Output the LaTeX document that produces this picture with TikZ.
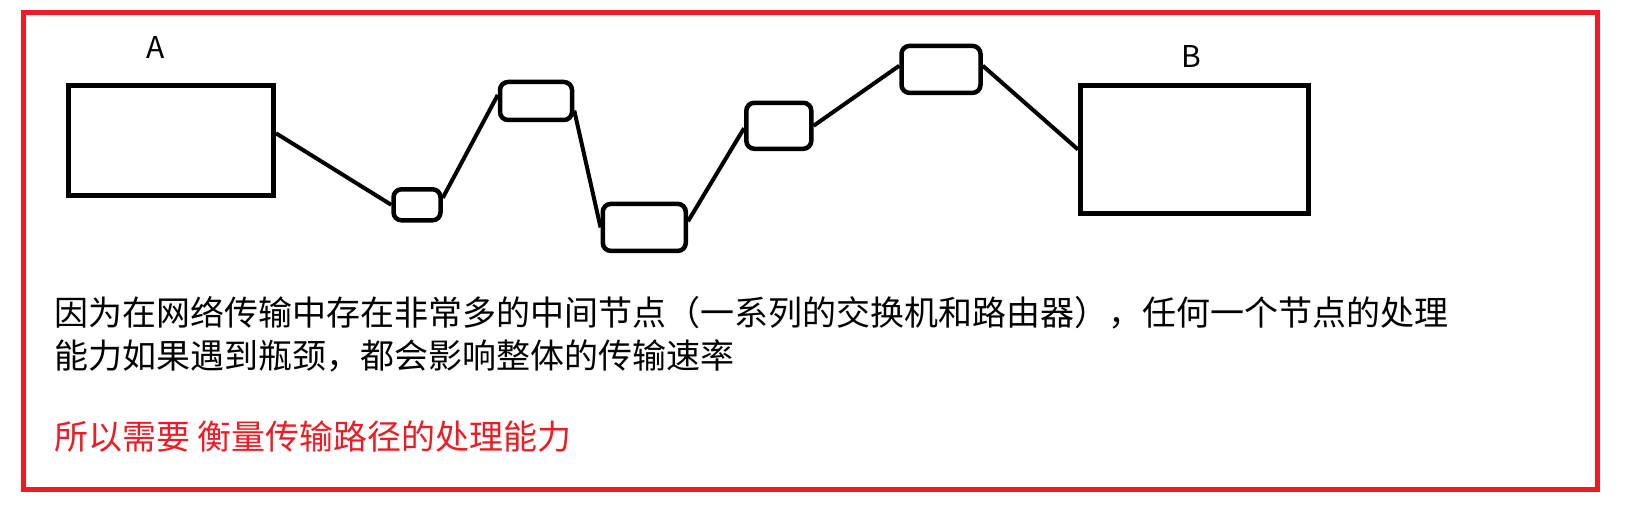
\documentclass[tikz,border=0pt]{standalone}
\usepackage{fontspec}
\setmainfont{Noto Sans CJK SC}
\definecolor{redframe}{HTML}{ED1C24}
\begin{document}
\begin{tikzpicture}[x=1pt,y=-1pt,
  bigbox/.style={draw, line width=5pt, inner sep=0pt},
  router/.style={draw, line width=4.5pt, rounded corners=8pt, inner sep=0pt},
  link/.style={line width=4pt},
  lettertag/.style={font=\fontsize{30}{34}\selectfont, inner sep=0pt},
  body/.style={font=\fontsize{34}{40}\selectfont, inner sep=0pt, anchor=base west}]
\useasboundingbox (0,0) rectangle (1651,513);
\draw[redframe, line width=5pt] (23,12.6) rectangle (1597,489.6);

\node[lettertag] (la) at (156,48) {A};
\node[lettertag] (lb) at (1191.5,57) {B};

\node[bigbox, minimum width=205pt, minimum height=110pt] (A) at (171,140.6) {};
\node[bigbox, minimum width=228pt, minimum height=128pt] (B) at (1194.5,149.5) {};

\node[router, minimum width=47pt, minimum height=31pt] (n1) at (417,204.8) {};
\node[router, minimum width=72pt, minimum height=38pt] (n2) at (536,101) {};
\node[router, minimum width=83pt, minimum height=47pt] (n3) at (644.3,227.4) {};
\node[router, minimum width=65pt, minimum height=46pt] (n4) at (778.8,125.8) {};
\node[router, minimum width=79pt, minimum height=47pt] (n5) at (941,69.4) {};

\draw[link] (A.4) -- (n1.west);
\draw[link] (n1.15) -- (n2.171);
\draw[link] (n2.-14) -- (n3.west);
\draw[link] (n3.8) -- (n4.184);
\draw[link] (n4.east) -- (n5.175);
\draw[link] (n5.5) -- (B.west);

\node[body] (t1) at (54,325.5) {因为在网络传输中存在非常多的中间节点（一系列的交换机和路由器），任何一个节点的处理};
\node[body] (t2) at (54,368.5) {能力如果遇到瓶颈，都会影响整体的传输速率};
\node[body, text=redframe] (t3) at (54,449) {所以需要 衡量传输路径的处理能力};
\end{tikzpicture}
\end{document}
